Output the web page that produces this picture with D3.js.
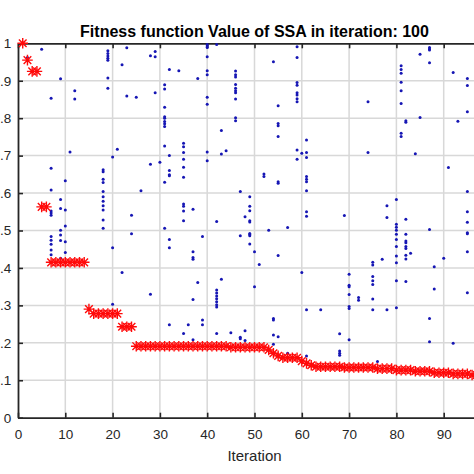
<!DOCTYPE html>
<html>
<head>
<meta charset="utf-8">
<script src="https://cdn.jsdelivr.net/npm/d3@7"></script>
<style>
  html, body { margin: 0; padding: 0; background: #fff; overflow: hidden; }
  svg { display: block; font-family: "Liberation Sans", Arial, Helvetica, sans-serif; }
</style>
</head>
<body>
<div id="chart"></div>
<script>
const titleText = 'Fitness function Value of SSA in iteration: 100';
const xLabelText = 'Iteration';
const xTicks = [0, 10, 20, 30, 40, 50, 60, 70, 80, 90, 100];
const yTicks = [0, 0.1, 0.2, 0.3, 0.4, 0.5, 0.6, 0.7, 0.8, 0.9, 1];

// best fitness per iteration (red stars), iterations 1..100
const bestFitness = [
  1.0, 0.955, 0.925, 0.925, 0.563, 0.563, 0.415, 0.415, 0.415, 0.415,
  0.415, 0.415, 0.415, 0.415, 0.290, 0.278, 0.278, 0.278, 0.278, 0.278,
  0.278, 0.243, 0.243, 0.243, 0.191, 0.191, 0.191, 0.191, 0.191, 0.191,
  0.191, 0.191, 0.191, 0.191, 0.191, 0.191, 0.191, 0.191, 0.191, 0.191,
  0.191, 0.191, 0.191, 0.191, 0.188, 0.188, 0.188, 0.188, 0.188, 0.188,
  0.188, 0.188, 0.181, 0.172, 0.165, 0.160, 0.160, 0.160, 0.160, 0.151,
  0.145, 0.140, 0.136, 0.136, 0.136, 0.136, 0.136, 0.136, 0.134, 0.134,
  0.134, 0.134, 0.134, 0.134, 0.134, 0.131, 0.131, 0.131, 0.131, 0.127,
  0.127, 0.127, 0.127, 0.124, 0.124, 0.124, 0.124, 0.120, 0.120, 0.120,
  0.120, 0.117, 0.117, 0.117, 0.117, 0.114, 0.114, 0.114, 0.114, 0.114
];

// population fitness samples (blue dots): [iteration, values]
const population = [
  [2, [0.962]],
  [5, [0.984]],
  [7, [0.853, 0.666, 0.608, 0.552, 0.547, 0.541, 0.484, 0.474, 0.463, 0.448, 0.435]],
  [9, [0.905, 0.583, 0.559, 0.501, 0.488, 0.473, 0.426]],
  [10, [0.633, 0.555, 0.512, 0.470, 0.441]],
  [11, [0.710]],
  [12, [0.873, 0.851]],
  [18, [0.662, 0.657, 0.637, 0.628, 0.604, 0.590, 0.578, 0.566, 0.555, 0.528, 0.506]],
  [19, [0.980, 0.973, 0.966, 0.960, 0.955, 0.907, 0.880]],
  [20, [0.696, 0.454, 0.303]],
  [21, [0.717]],
  [22, [0.943, 0.388]],
  [23, [0.988, 0.859]],
  [24, [0.541, 0.491]],
  [25, [0.856]],
  [26, [0.606]],
  [28, [0.967, 0.677, 0.330]],
  [29, [0.978, 0.964, 0.868]],
  [30, [0.682]],
  [31, [0.889, 0.878, 0.829, 0.804, 0.800, 0.791, 0.785, 0.778, 0.726, 0.629, 0.506]],
  [32, [0.930, 0.700, 0.660, 0.649, 0.646, 0.476, 0.454, 0.248]],
  [34, [0.927]],
  [35, [0.733, 0.724, 0.708, 0.690, 0.669, 0.642, 0.571, 0.565, 0.552, 0.526, 0.225]],
  [36, [0.248]],
  [37, [0.557, 0.443, 0.428, 0.423, 0.316, 0.208]],
  [38, [0.906, 0.361]],
  [39, [0.484, 0.261, 0.248]],
  [40, [0.997, 0.993, 0.989, 0.964, 0.927, 0.916, 0.856, 0.837, 0.710, 0.686]],
  [42, [0.997, 0.524, 0.341, 0.333, 0.325, 0.318, 0.310, 0.302, 0.296, 0.225]],
  [43, [0.767, 0.704, 0.370]],
  [44, [0.713]],
  [45, [0.227]],
  [46, [0.926, 0.916, 0.910, 0.890, 0.880, 0.873, 0.868, 0.851, 0.801, 0.793]],
  [47, [0.604, 0.486, 0.215, 0.211]],
  [48, [0.537, 0.232, 0.206]],
  [49, [0.590, 0.565, 0.553, 0.526, 0.523, 0.492, 0.489, 0.486, 0.464]],
  [50, [0.443, 0.350]],
  [51, [0.409]],
  [52, [0.651, 0.644]],
  [53, [0.501]],
  [54, [0.951, 0.265, 0.261, 0.221, 0.196]],
  [55, [0.833, 0.786, 0.780, 0.751, 0.630, 0.626, 0.433, 0.216]],
  [57, [0.508, 0.172]],
  [59, [0.991, 0.962, 0.895, 0.888, 0.868, 0.862, 0.852, 0.844, 0.715, 0.690]],
  [60, [0.706, 0.388]],
  [61, [0.742, 0.708, 0.695, 0.644, 0.637, 0.630, 0.606, 0.550, 0.538, 0.288, 0.165]],
  [64, [0.288]],
  [68, [0.224, 0.178, 0.172, 0.167]],
  [69, [0.540]],
  [70, [0.383, 0.354, 0.350, 0.329, 0.297, 0.292, 0.208]],
  [72, [0.321, 0.314]],
  [74, [0.844, 0.708]],
  [75, [0.415, 0.408, 0.377, 0.366, 0.356, 0.317, 0.288]],
  [76, [0.150]],
  [77, [0.423]],
  [78, [0.566, 0.535, 0.288]],
  [80, [0.583, 0.517, 0.509, 0.501, 0.490, 0.476, 0.457, 0.432, 0.414, 0.366, 0.294]],
  [81, [0.940, 0.930, 0.920, 0.896, 0.873, 0.839, 0.760, 0.751]],
  [82, [0.793, 0.789, 0.530, 0.490, 0.472, 0.467, 0.457, 0.452, 0.434, 0.424, 0.364]],
  [83, [0.439]],
  [84, [0.705]],
  [85, [0.971, 0.802]],
  [87, [0.989, 0.985, 0.982, 0.948, 0.503, 0.265, 0.203]],
  [88, [0.403, 0.344]],
  [90, [0.426]],
  [91, [0.668]],
  [92, [0.922, 0.199]],
  [93, [0.792]],
  [95, [0.906, 0.887, 0.817, 0.604, 0.550, 0.522, 0.494, 0.491, 0.443, 0.334]]
];

const width = 474, height = 474;
// the figure is cropped on the right: the axes box extends past the window
const margin = { top: 43.3, left: 18 };
const plotW = 473, plotH = 374.4;

const svg = d3.select('#chart').append('svg')
  .attr('width', width).attr('height', height)
  .attr('viewBox', `0 0 ${width} ${height}`);

const x = d3.scaleLinear().domain([0, 100]).range([margin.left, margin.left + plotW]);
const y = d3.scaleLinear().domain([0, 1]).range([margin.top + plotH, margin.top]);

const axisColor = '#262626';

// grid
const grid = svg.append('g').attr('class', 'grid')
  .attr('stroke', '#d8d8d8').attr('stroke-width', 1.5);
grid.selectAll('line.gx').data(xTicks.slice(1)).join('line').attr('class', 'gx')
  .attr('x1', d => x(d)).attr('x2', d => x(d))
  .attr('y1', y(0)).attr('y2', y(1));
grid.selectAll('line.gy').data(yTicks.slice(1, -1)).join('line').attr('class', 'gy')
  .attr('x1', x(0)).attr('x2', x(100))
  .attr('y1', d => y(d)).attr('y2', d => y(d));

// axes (MATLAB box, ticks pointing in)
function styleAxis(g) {
  g.select('.domain').attr('stroke', axisColor).attr('stroke-width', 1.8);
  g.selectAll('.tick line').attr('stroke', axisColor).attr('stroke-width', 1.6);
  g.selectAll('.tick text').attr('fill', '#262626').attr('font-size', 13.5);
}

svg.append('g')
  .attr('transform', `translate(0,${y(0)})`)
  .call(d3.axisBottom(x).tickValues(xTicks.filter(d => d < 100)).tickFormat(d3.format('d'))
    .tickSizeInner(-5).tickSizeOuter(0).tickPadding(11.7))
  .call(styleAxis)
  .attr('font-family', null);

svg.append('g')
  .attr('transform', `translate(0,${y(1)})`)
  .call(d3.axisTop(x).tickValues(xTicks).tickFormat('')
    .tickSizeInner(-5).tickSizeOuter(0))
  .call(styleAxis);

svg.append('g')
  .attr('transform', `translate(${x(0)},0)`)
  .call(d3.axisLeft(y).tickValues(yTicks).tickFormat(d => d === 0 || d === 1 ? d3.format('d')(d) : d3.format('.1f')(d))
    .tickSizeInner(-5).tickSizeOuter(0).tickPadding(6.8))
  .call(styleAxis)
  .attr('font-family', null);

svg.append('g')
  .attr('transform', `translate(${x(100)},0)`)
  .call(d3.axisRight(y).tickValues(yTicks).tickFormat('')
    .tickSizeInner(-5).tickSizeOuter(0))
  .call(styleAxis);

// population dots
const dots = population.flatMap(([it, vals]) => vals.map(v => ({ it, v })));
svg.append('g').attr('class', 'dots')
  .selectAll('circle').data(dots).join('circle')
  .attr('cx', d => x(d.it)).attr('cy', d => y(d.v))
  .attr('r', 1.5)
  .attr('fill', '#1616b4');

// best-so-far stars
const r = 5.3, dg = r * 0.72;
const starPath = `M${-r},0L${r},0M0,${-r}L0,${r}M${-dg},${-dg}L${dg},${dg}M${-dg},${dg}L${dg},${-dg}`;
svg.append('g').attr('class', 'stars')
  .selectAll('path').data(bestFitness).join('path')
  .attr('transform', (d, i) => `translate(${x(i + 1)},${y(d)})`)
  .attr('d', starPath)
  .attr('fill', 'none')
  .attr('stroke', '#ff0a0a')
  .attr('stroke-width', 1.4);

// title and x label, centred on the axes box
const cx = margin.left + plotW / 2;
svg.append('text')
  .attr('x', cx).attr('y', 36.5)
  .attr('text-anchor', 'middle')
  .attr('font-size', 16).attr('font-weight', 'bold')
  .attr('fill', '#000')
  .text(titleText);

svg.append('text')
  .attr('x', cx).attr('y', 461)
  .attr('text-anchor', 'middle')
  .attr('font-size', 15)
  .attr('fill', '#262626')
  .text(xLabelText);
</script>
</body>
</html>
